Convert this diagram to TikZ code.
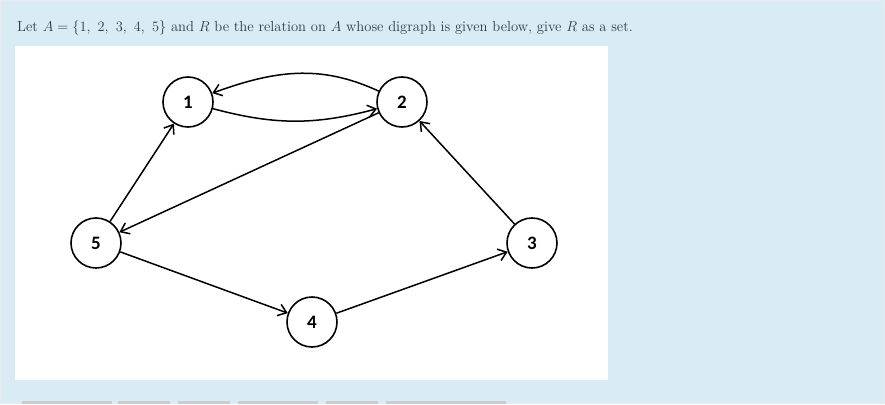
\documentclass[tikz,border=0pt]{standalone}
\usepackage{fontspec}
\newfontfamily\nodefont{Carlito}
\usetikzlibrary{arrows.meta}
\definecolor{bgblue}{HTML}{D9EBF5}
\definecolor{txt}{HTML}{2E3B48}
\begin{document}
\begin{tikzpicture}[x=1pt,y=-1pt,
  vtx/.style={draw,circle,line width=1.6pt,minimum size=50pt,inner sep=0pt,fill=white,font=\nodefont\bfseries\fontsize{19}{19}\selectfont},
  edge/.style={line width=1.5pt,-{Straight Barb[length=8pt,width=12pt]}}]
\useasboundingbox (0,0) rectangle (885,404);
\fill[bgblue] (0,0) rectangle (885,404);
\draw[bgblue!80!black!30!white,line width=1pt] (0.5,0.5) rectangle (884.5,403.5);
\node[anchor=west,text=txt,inner sep=0pt,font=\fontsize{14.6}{17}\selectfont] (q) at (17,28) {Let $A=\{1,\ 2,\ 3,\ 4,\ 5\}$ and $R$ be the relation on $A$ whose digraph is given below, give $R$ as a set.};
\fill[white] (15,46) rectangle (608,380);
\foreach \x/\w in {22/90,118/52,178/52,238/80,326/52,386/120}
  \fill[gray!40] (\x,401) rectangle ++(\w,3);
\node[vtx] (n1) at (188,102) {1};
\node[vtx] (n2) at (402,102) {2};
\node[vtx] (n5) at (96,243) {5};
\node[vtx] (n3) at (532,243) {3};
\node[vtx] (n4) at (312,322) {4};
\draw[edge] (n1) to[out=-15,in=195] (n2);
\draw[edge] (n2) to[out=155,in=20] (n1);
\draw[edge] (n2) -- (n5);
\draw[edge] (n5) -- (n1);
\draw[edge] (n3) -- (n2);
\draw[edge] (n5) -- (n4);
\draw[edge] (n4) -- (n3);
\end{tikzpicture}
\end{document}
